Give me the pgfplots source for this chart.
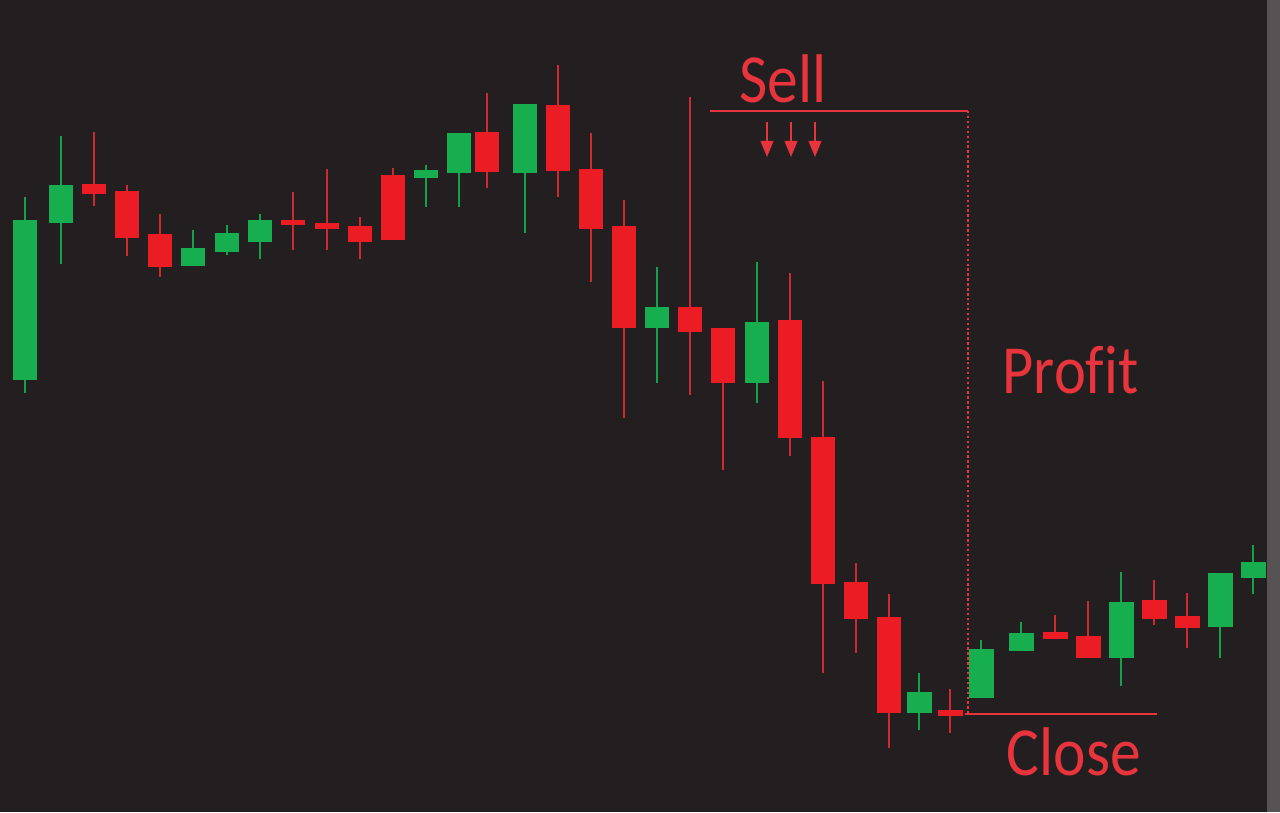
\documentclass[border=0pt]{standalone}
\usepackage{pgfplots}
\usepackage{pgfplotstable}
\pgfplotsset{compat=1.18}
\usetikzlibrary{arrows.meta}
\usepackage{fontspec}
\setmainfont{Carlito}[Ligatures=NoCommon]
\definecolor{bgcol}{HTML}{231F20}
\definecolor{stripcol}{HTML}{575253}
\definecolor{gbody}{HTML}{17AE4F}
\definecolor{rbody}{HTML}{EC1C24}
\definecolor{gwick}{HTML}{16A04B}
\definecolor{rwick}{HTML}{CE2A31}
\definecolor{txtred}{HTML}{E8343C}

% pixel-read values: x, body top, body bottom, high, low (screen y, increasing downward)
\pgfplotstableread{
x bt bb hi lo
25 220 380 197 393
61 185 223 136 264
193 248 266 230 266
227 233 252 225 255
260 220 242 214 259
426 170 178 165 207
459 133 173 133 207
525 104 173 104 233
657 307 328 267 383
757 322 383 262 403
919 692 713 673 730
981 649 698 640 698
1021 633 651 622 651
1121 602 658 572 686
1220 573 627 573 658
1253 562 578 545 594
}\greentab
\pgfplotstableread{
x bt bb hi lo
94 184 194 132 206
127 191 238 185 256
160 234 267 214 277
293 220 225 192 250
327 223 229 169 250
360 226 242 217 259
393 175 240 168 240
487 132 172 93 188
558 105 171 65 197
591 169 229 133 282
624 226 328 200 418
690 307 332 97 395
723 328 383 328 470
790 320 438 273 456
823 437 584 381 673
856 582 619 563 653
889 617 713 594 748
950 710 716 689 733
1055 632 639 615 639
1088 636 658 601 658
1154 600 619 580 625
1187 616 628 593 648
}\redtab

\begin{document}
\begin{tikzpicture}
\begin{axis}[
  width=12.8cm, height=8.12cm, scale only axis,
  xmin=0, xmax=1280, ymin=0, ymax=812, y dir=reverse,
  axis lines=none, xtick=\empty, ytick=\empty,
  clip=true,
]
\fill[bgcol] (axis cs:0,0) rectangle (axis cs:1280,812);
\fill[stripcol] (axis cs:1267,0) rectangle (axis cs:1280,812);

% wicks
\addplot[draw=none, mark=none, forget plot,
  error bars/.cd, y dir=both, y explicit, error mark=none,
  error bar style={draw=gwick, line width=0.6pt}]
  table[x=x, y expr=(\thisrow{hi}+\thisrow{lo})/2, y error expr=(\thisrow{lo}-\thisrow{hi})/2] {\greentab};
\addplot[draw=none, mark=none, forget plot,
  error bars/.cd, y dir=both, y explicit, error mark=none,
  error bar style={draw=rwick, line width=0.6pt}]
  table[x=x, y expr=(\thisrow{hi}+\thisrow{lo})/2, y error expr=(\thisrow{lo}-\thisrow{hi})/2] {\redtab};
% bodies
\addplot[draw=none, mark=none, forget plot,
  error bars/.cd, y dir=both, y explicit, error mark=none,
  error bar style={draw=gbody, line width=7.1pt}]
  table[x=x, y expr=(\thisrow{bt}+\thisrow{bb})/2, y error expr=(\thisrow{bb}-\thisrow{bt})/2] {\greentab};
\addplot[draw=none, mark=none, forget plot,
  error bars/.cd, y dir=both, y explicit, error mark=none,
  error bar style={draw=rbody, line width=7.1pt}]
  table[x=x, y expr=(\thisrow{bt}+\thisrow{bb})/2, y error expr=(\thisrow{bb}-\thisrow{bt})/2] {\redtab};

% annotations
\draw[txtred, line width=0.8pt] (axis cs:710,111) -- (axis cs:968,111);
\draw[txtred, line width=0.45pt, dash pattern=on 0.7pt off 0.7pt] (axis cs:968,111) -- (axis cs:968,714);
\draw[txtred, line width=0.7pt] (axis cs:965,714) -- (axis cs:1157,714);
\draw[txtred, line width=0.6pt, -{Triangle[width=3.6pt,length=4.6pt]}] (axis cs:767,122) -- (axis cs:767,157);
\draw[txtred, line width=0.6pt, -{Triangle[width=3.6pt,length=4.6pt]}] (axis cs:791,122) -- (axis cs:791,157);
\draw[txtred, line width=0.6pt, -{Triangle[width=3.6pt,length=4.6pt]}] (axis cs:815,122) -- (axis cs:815,157);
\node[anchor=base west, inner sep=0, text=txtred, font=\fontsize{17.5}{20}\selectfont, transform shape, yscale=1.12] at (axis cs:739,102) {Sell};
\node[anchor=base west, inner sep=0, text=txtred, font=\fontsize{17.2}{20}\selectfont, transform shape, yscale=1.14] at (axis cs:1002,393) {Prof\kern0pt it};
\node[anchor=base west, inner sep=0, text=txtred, font=\fontsize{17.5}{20}\selectfont, transform shape, yscale=1.12] at (axis cs:1006,775) {Close};
\end{axis}
\end{tikzpicture}
\end{document}
